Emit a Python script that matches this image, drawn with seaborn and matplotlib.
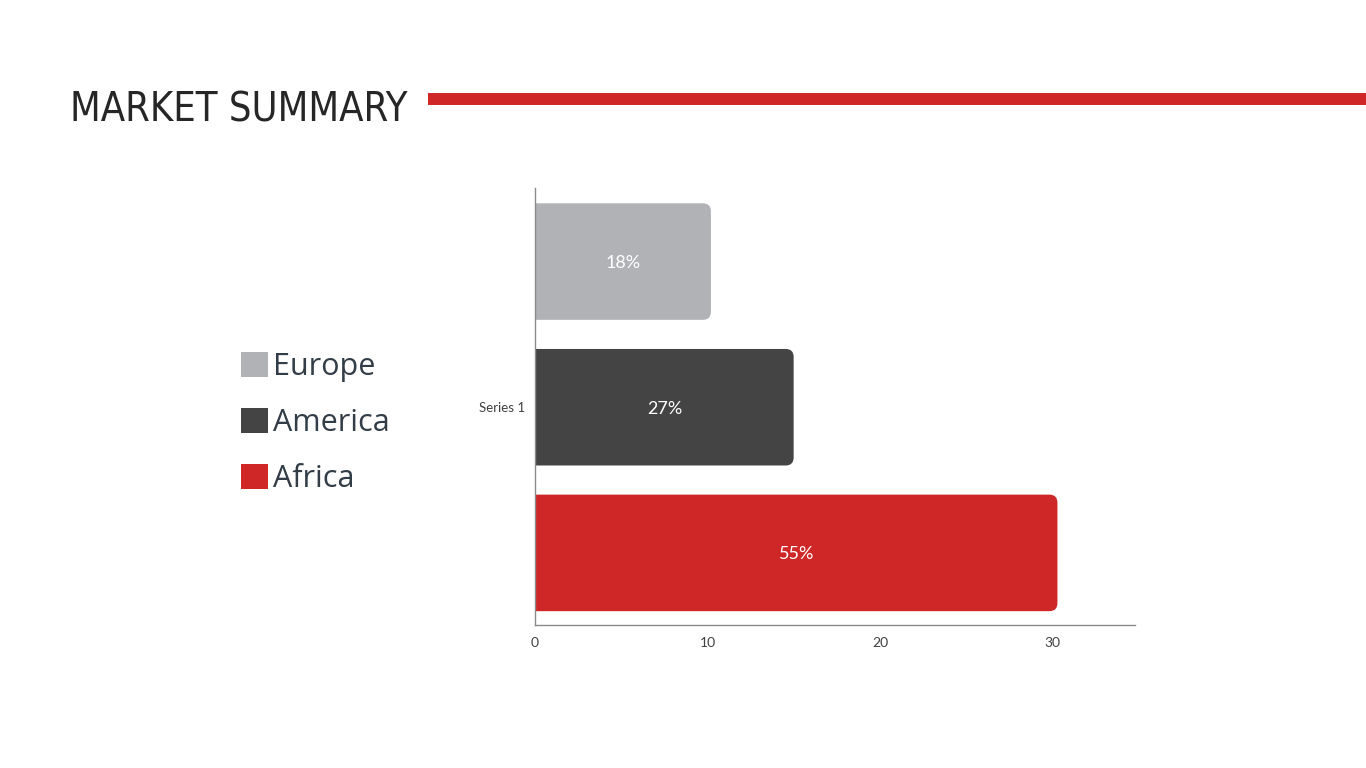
import seaborn as sns
import pandas as pd
import matplotlib.pyplot as plt
from matplotlib import font_manager
from matplotlib.patches import FancyBboxPatch, Patch
from matplotlib.lines import Line2D

# data
regions = ["Europe", "America", "Africa"]
values = [10.2, 15.0, 30.3]
share_labels = ["18%", "27%", "55%"]
colors = ["#B1B2B6", "#444444", "#CF2627"]
series_name = "Series 1"
x_ticks = [0, 10, 20, 30]

df = pd.DataFrame({"region": regions, "value": values})

sns.set_style("white")
plt.rcParams['font.family'] = ['Lato', 'DejaVu Sans']

# pick a narrow face for the title if one is installed
installed = {(f.name, f.stretch) for f in font_manager.fontManager.ttflist}
title_family, title_stretch = "DejaVu Sans", "normal"
for fam, st in [("Liberation Sans Narrow", "condensed"), ("Liberation Sans Narrow", "normal"),
                ("Roboto Condensed", "normal"), ("Roboto", "condensed"),
                ("DejaVu Sans", "condensed"), ("Open Sans", "condensed")]:
    if (fam, st) in installed:
        title_family, title_stretch = fam, st
        break

fig = plt.figure(figsize=(13.66, 7.68), dpi=100)
ax = fig.add_axes([0.3917, 0.1862, 0.4392, 0.569])

sns.barplot(data=df, x="value", y="region", hue="region", palette=colors,
            orient="h", width=0.8, saturation=1, legend=False, ax=ax)

# value labels in the middle of each bar
for cont, lab in zip(ax.containers, share_labels):
    t = ax.bar_label(cont, labels=[lab], label_type="center", color="white",
                     fontsize=13, family=["Lato", "DejaVu Sans"], zorder=5)
    t[0].set_va("center_baseline")

ax.set_xlim(0, 34.8)
ax.set_ylim(2.495, -0.505)

# rounded right corners
r = 0.46
for p in list(ax.patches):
    x, y, w, h = p.get_x(), p.get_y(), p.get_width(), p.get_height()
    fb = FancyBboxPatch((x - r, y), w + r, h,
                        boxstyle=f"round,pad=0,rounding_size={r}",
                        mutation_aspect=0.12, facecolor=p.get_facecolor(),
                        edgecolor="none", zorder=1)
    p.remove()
    ax.add_patch(fb)

ax.set_xticks(x_ticks)
ax.set_yticks([1])
ax.set_yticklabels([series_name])
ax.set_xlabel("")
ax.set_ylabel("")
ax.tick_params(axis="both", length=0, colors="#404040", labelsize=10)
ax.tick_params(axis="x", pad=9)
ax.tick_params(axis="y", pad=7.5, labelsize=9.5)
for s in ["top", "right"]:
    ax.spines[s].set_visible(False)
for s in ["left", "bottom"]:
    ax.spines[s].set_color("#8a8a8a")
    ax.spines[s].set_linewidth(1)
    ax.spines[s].set_zorder(3)

# legend on the left
handles = [Patch(facecolor=c, edgecolor="none") for c in colors]
fig.legend(handles, regions, loc="upper left", bbox_to_anchor=(0.1764, 0.5415),
           frameon=False, handlelength=0.88, handleheight=0.88,
           handletextpad=0.17, labelspacing=0.85, borderpad=0, borderaxespad=0,
           labelcolor="#333d47", prop={"family": ["Open Sans", "DejaVu Sans"], "size": 22})

# title and red rule
title = fig.text(0.0512, 0.842, "MARKET SUMMARY", fontsize=40, color="#262626",
                 family=[title_family, "DejaVu Sans"], fontstretch=title_stretch,
                 va="baseline", ha="left")
renderer = fig.canvas.get_renderer()
w_px = title.get_window_extent(renderer).width
title.set_fontsize(40 * 337 / w_px)

fig.add_artist(Line2D([0.3133, 1.0], [0.871, 0.871], color="#CF2627",
                      linewidth=8.6, solid_capstyle="butt"))

fig.savefig("out.png", dpi=100, facecolor="white")
